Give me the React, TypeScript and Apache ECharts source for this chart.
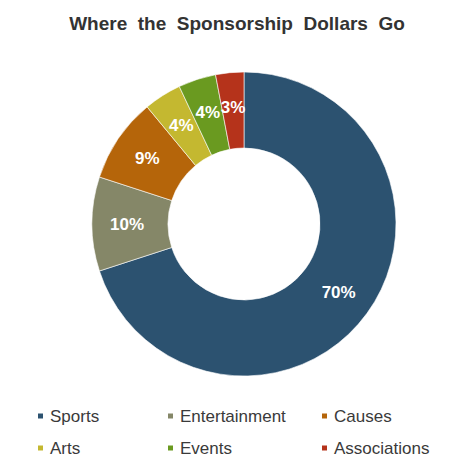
import { useEffect, useRef } from 'react';
import * as echarts from 'echarts';

const categories = ['Sports', 'Entertainment', 'Causes', 'Arts', 'Events', 'Associations'];
const shares = [70, 10, 9, 4, 4, 3];
const sliceColors = ['#2c5270', '#858768', '#b5650a', '#c4b830', '#6a9a20', '#b5331b'];

// legend is laid out as 3 columns x 2 rows
const legendColumns = [
  ['Sports', 'Arts'],
  ['Entertainment', 'Events'],
  ['Causes', 'Associations'],
];
const legendLeft = [36, 166, 320];

const FONT = '"Liberation Sans", Arial, sans-serif';

export default function App() {
  const chartRef = useRef<HTMLDivElement>(null);

  useEffect(() => {
    document.body.style.margin = '0';
    if (!chartRef.current) return;
    const chart = echarts.init(chartRef.current, undefined, { renderer: 'svg' });

    const option: echarts.EChartsOption = {
      animation: false,
      backgroundColor: '#ffffff',
      color: sliceColors,
      title: {
        text: 'Where  the  Sponsorship  Dollars  Go',
        left: 'center',
        top: 14,
        padding: 0,
        textStyle: {
          fontFamily: FONT,
          fontSize: 19,
          fontWeight: 'bold',
          color: '#333333',
        },
      },
      legend: legendColumns.map((col, i) => ({
        data: col,
        orient: 'vertical',
        left: legendLeft[i],
        top: 406,
        padding: 0,
        itemWidth: 7,
        itemHeight: 7,
        itemGap: 12,
        icon: 'rect',
        textStyle: {
          fontFamily: FONT,
          fontSize: 17,
          lineHeight: 20,
          color: '#3a3a3a',
          padding: [0, 0, 0, 1],
        },
      })),
      series: [
        {
          type: 'pie',
          center: [244, 224],
          radius: [76, 152],
          startAngle: 90,
          clockwise: true,
          avoidLabelOverlap: false,
          itemStyle: {
            borderColor: '#ffffff',
            borderWidth: 0.6,
          },
          label: {
            show: true,
            position: 'inside',
            formatter: '{c}%',
            color: '#ffffff',
            fontFamily: FONT,
            fontSize: 17,
            fontWeight: 'bold',
          },
          labelLine: { show: false },
          emphasis: { disabled: true },
          data: categories.map((name, i) => ({ name, value: shares[i] })),
        },
      ],
    };

    chart.setOption(option);
    return () => {
      chart.dispose();
    };
  }, []);

  return <div ref={chartRef} style={{ width: 474, height: 474 }} />;
}
